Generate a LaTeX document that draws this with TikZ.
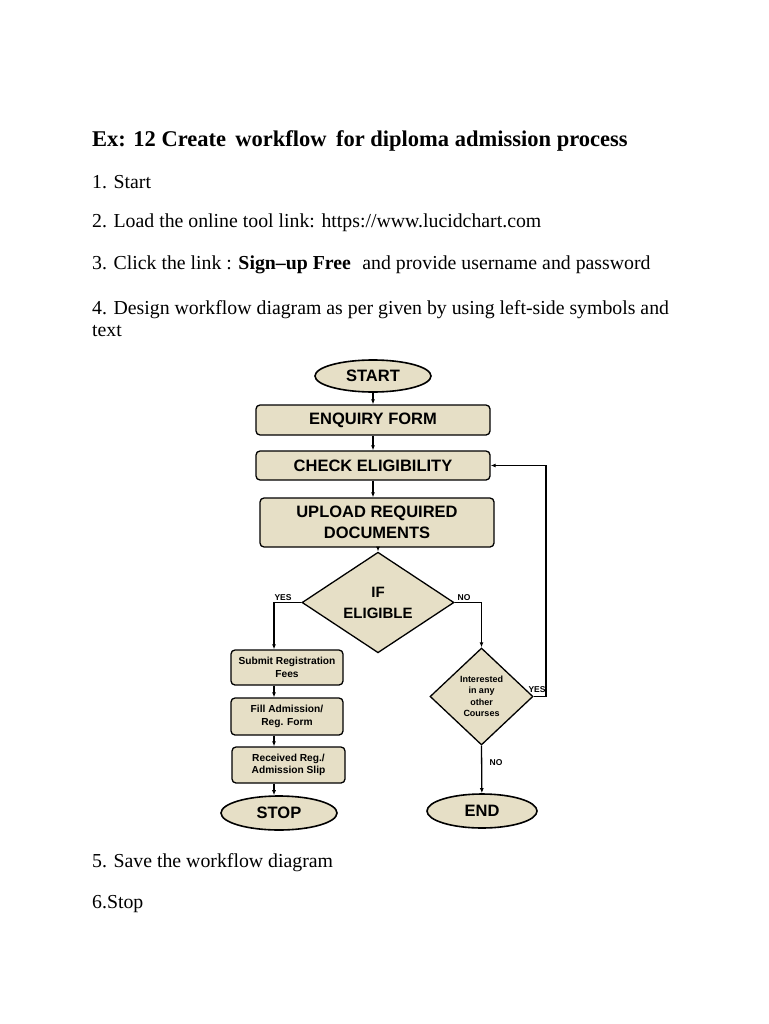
\documentclass[tikz,border=0pt]{standalone}
\usepackage{fontspec}
\setmainfont{Liberation Serif}
\newfontfamily\diasans{Liberation Sans}
\usetikzlibrary{shapes.geometric,arrows.meta}
\definecolor{bg}{HTML}{E6DFC6}
\begin{document}
\begin{tikzpicture}[x=1pt,y=-1pt,
  txt/.style={anchor=base west,inner sep=0pt,font=\fontsize{19.8}{22}\selectfont},
  box/.style={draw,line width=1.3pt,fill=bg,rounded corners=4pt,font=\diasans\bfseries\fontsize{16.5}{21.5}\selectfont,align=center,inner sep=0pt},
  sbox/.style={box,font=\diasans\bfseries\fontsize{10.2}{12.5}\selectfont},
  oval/.style={draw,line width=1.6pt,fill=bg,ellipse,inner sep=0pt,font=\diasans\bfseries\fontsize{16.5}{18}\selectfont},
  dia/.style={draw,line width=1.3pt,fill=bg,diamond,inner sep=0pt,align=center},
  lab/.style={font=\diasans\bfseries\fontsize{8.5}{9}\selectfont,inner sep=0pt},
  arr/.style={line width=1.3pt,-{Latex[length=5pt,width=4pt]}}]
\useasboundingbox (0,0) rectangle (768,1024);
\node[txt,font=\bfseries\fontsize{22.5}{26}\selectfont] (t) at (92,147) {Ex: 12 Create\, workflow\, for diploma admission process};
\node[txt] (s1) at (92,189) {1. Start};
\node[txt] (s2) at (92,227) {2. Load the online tool link: https://www.lucidchart.com};
\node[txt] (s3) at (92,269) {3. Click the link : \textbf{Sign–up Free}\,\, and provide username and password};
\node[txt] (s4) at (92,314) {4. Design workflow diagram as per given by using left-side symbols and};
\node[txt] (s4b) at (92,336) {text};
\node[txt] (s5) at (92,867) {5. Save the workflow diagram};
\node[txt] (s6) at (92,908) {6.Stop};

\node[oval,minimum width=116pt,minimum height=32pt] (start) at (373,376) {START};
\node[box,minimum width=234pt,minimum height=30pt] (enq) at (373,420) {ENQUIRY FORM};
\node[box,minimum width=234pt,minimum height=29pt] (chk) at (373,465.5) {CHECK ELIGIBILITY};
\node[box,minimum width=234pt,minimum height=49pt] (up) at (377,522.5) {UPLOAD REQUIRED\\DOCUMENTS};
\node[dia,minimum width=152pt,minimum height=79pt,font=\diasans\bfseries\fontsize{15}{21}\selectfont] (if) at (378,602.5) {IF\\ELIGIBLE};
\node[sbox,minimum width=112pt,minimum height=35pt] (sub) at (287,667.5) {Submit Registration\\Fees};
\node[sbox,minimum width=112pt,minimum height=37pt] (fill) at (287,716.5) {Fill Admission/\\Reg. Form};
\node[sbox,minimum width=113pt,minimum height=36pt] (rec) at (288.5,765) {Received Reg./\\Admission Slip};
\node[oval,minimum width=116pt,minimum height=34pt] (stop) at (279,813) {STOP};
\node[dia,minimum width=103pt,minimum height=97pt,font=\diasans\bfseries\fontsize{9}{11.5}\selectfont] (int) at (481.5,696.5) {Interested\\in any\\other\\Courses};
\node[oval,minimum width=110pt,minimum height=34pt] (end) at (482,811) {END};
\coordinate (colL) at (274,0);
\coordinate (colR) at (546,0);

\draw[arr] (start) -- (enq);
\draw[arr] (enq) -- (chk);
\draw[arr] (chk.south) -- (chk.south |- up.north);
\draw[arr] (if.north |- up.south) -- (if.north);
\draw[arr] (if.west) -| (sub.north -| colL);
\draw[arr] (sub.south -| colL) -- (fill.north -| colL);
\draw[arr] (fill.south -| colL) -- (rec.north -| colL);
\draw[arr] (rec.south -| colL) -- (stop.north -| colL);
\draw[arr] (if.east) -| (int.north);
\draw[arr] (int.south) -- (end);
\draw[arr] (int.east) -| (chk.east -| colR) -- (chk.east);
\node[lab] (ly) at (283,598) {YES};
\node[lab] (ln) at (464,598) {NO};
\node[lab] (ly2) at (537,690) {YES};
\node[lab] (ln2) at (496,763) {NO};
\end{tikzpicture}
\end{document}
